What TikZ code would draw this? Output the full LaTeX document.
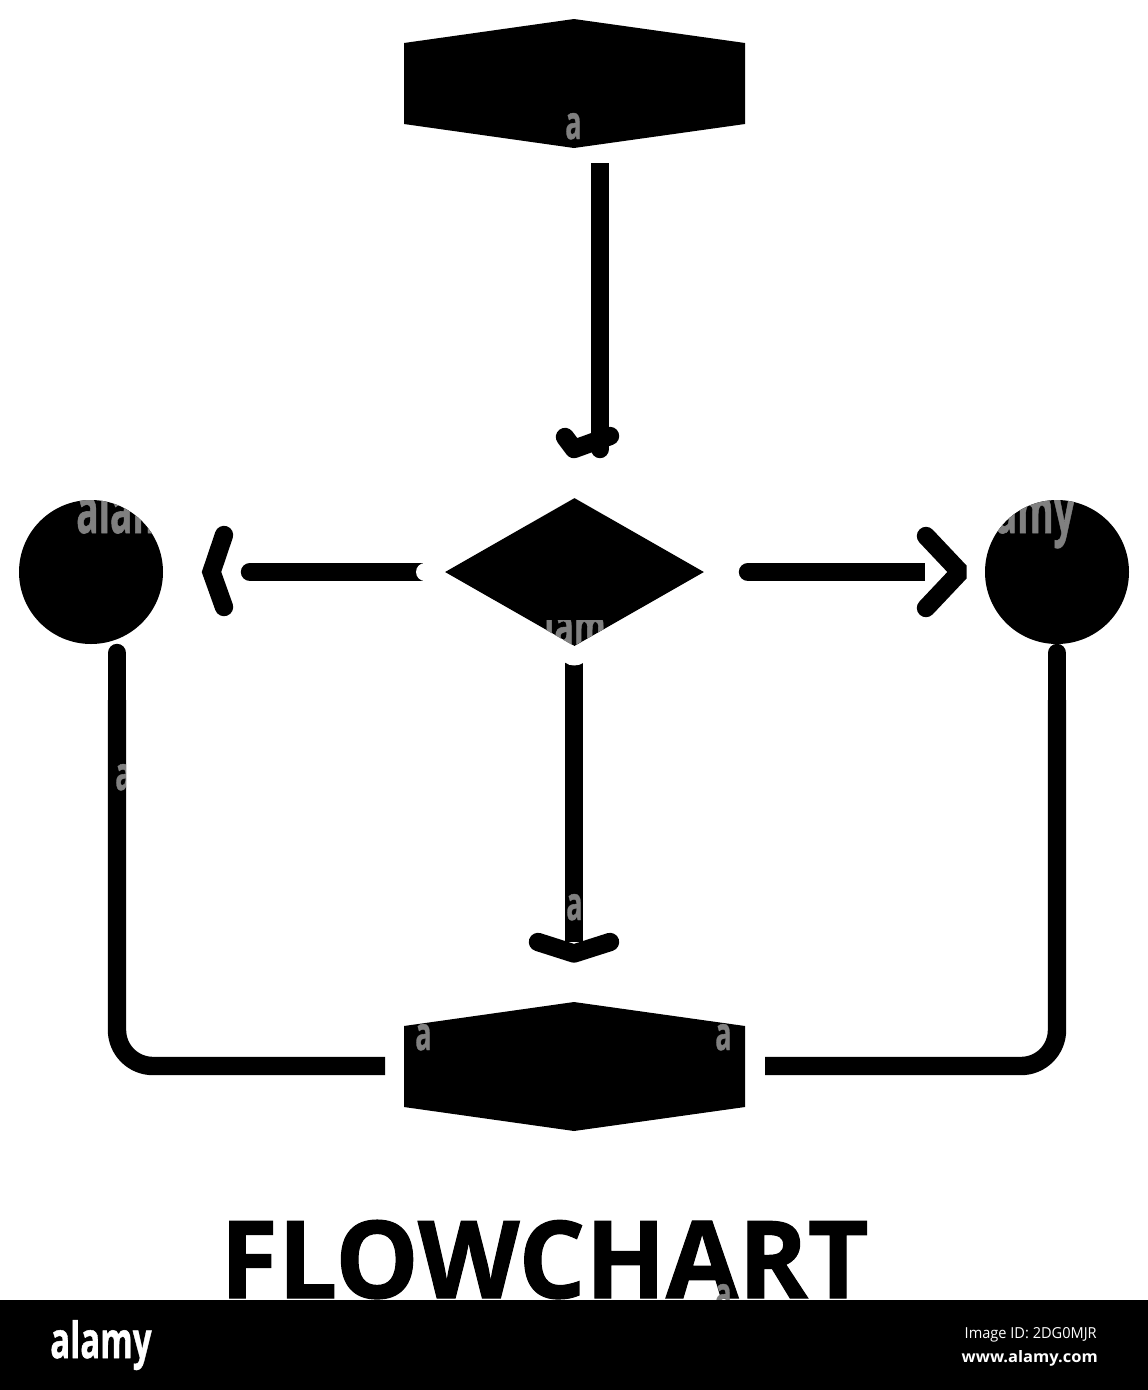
\documentclass[tikz,border=0pt]{standalone}
\usepackage{fontspec}
\setmainfont{Open Sans}
\newfontfamily\heavyfont[BoldFeatures={FakeBold=1.0}]{Open Sans}
\usetikzlibrary{shapes.geometric}
\definecolor{wmgrey}{HTML}{808080}
\newcommand{\wmark}[2]{\fontsize{#1}{#1}\selectfont\heavyfont\bfseries\scalebox{0.58}[1]{#2}}
\tikzset{
  shapefill/.style={fill=black,draw=none},
  conn/.style={draw=black,line width=13.8pt,line cap=butt,line join=round},
  roundconn/.style={conn,line cap=round},
  wm/.style={text=wmgrey,inner sep=0pt,anchor=base west},
  dot/.style={circle,shapefill,minimum size=108pt,inner sep=0pt},
  decision/.style={diamond,shapefill,minimum width=194.25pt,minimum height=111pt,inner sep=0pt,aspect=1.75},
  footer/.style={text=white,inner sep=0pt,anchor=base east},
}
\begin{document}
\begin{tikzpicture}[x=0.75pt,y=-0.75pt]
\useasboundingbox (0,0) rectangle (1148,1390);
% shapes
\node[dot] (lc) at (91,572) {};
\node[dot] (rc) at (1057,572) {};
\node[decision] (dec) at (574.5,572) {};
\fill[shapefill] (404,43) -- (574,19) -- (745,43) -- (745,124) -- (574,148) -- (404,124) -- cycle;
\fill[shapefill] (404,1026) -- (574,1002) -- (745,1026) -- (745,1107) -- (574,1131) -- (404,1107) -- cycle;
\coordinate (topout) at (600,163);
\coordinate (topin) at (600,449);
\coordinate (lstart) at (423,572);
\coordinate (lend) at (250,572);
\coordinate (rstart) at (925,572);
\coordinate (rend) at (748,572);
\coordinate (dstart) at (574,662);
\coordinate (dend) at (574,942);
\coordinate (llstart) at (117,653);
\coordinate (llend) at (385,1066);
\coordinate (rlstart) at (1057,653);
\coordinate (rlend) at (765,1066);
% connectors
\draw[conn] (topout) -- (600,440);
\draw[roundconn] (600,440) -- (topin);
\draw[roundconn,line join=round] (565,437) -- (574,449) -- (610,436);
\draw[conn] (lstart) -- (300,572);
\draw[roundconn] (300,572) -- (lend);
\fill[white] (425,572) circle (6.75pt);
\draw[roundconn,line join=miter] (224,535) -- (211.5,572) -- (224,607);
\draw[conn] (rstart) -- (800,572);
\draw[roundconn] (800,572) -- (rend);
\draw[roundconn,line join=bevel] (926,536) -- (960,572) -- (926,608);
\draw[conn] (dstart) -- (dend);
\fill[white] (564,660) -- (565,662.5) .. controls (570,666.5) and (578,666.5) .. (584,662.5) -- (584,660) -- cycle;
\draw[roundconn,line join=round] (538,942) -- (574,953.5) -- (610,942);
\draw[conn,rounded corners=27pt] (117,700) -- (117,1066) -- (llend);
\draw[roundconn] (llstart) -- (117,700);
\draw[conn,rounded corners=27pt] (1057,700) -- (1057,1066) -- (rlend);
\draw[roundconn] (rlstart) -- (1057,700);
% watermark fragments on the black shapes
\begin{scope}\clip (91,572) circle (54pt);
 \node[wm] (w1) at (76,533) {\wmark{48}{alamy}};
\end{scope}
\begin{scope}\clip (1057,572) circle (54pt);
 \node[wm,anchor=base east] (w2) at (1075,533) {\wmark{48}{alamy}};
\end{scope}
\begin{scope}\clip (445,572) -- (574,498) -- (704,572) -- (574,646) -- cycle;
 \clip (440,620) rectangle (710,650);
 \node[wm] (w3) at (544,646) {\wmark{42}{lam}};
\end{scope}
\node[wm] (w4) at (565,139) {\wmark{35}{a}};
\node[wm] (w5) at (415,1050) {\wmark{35}{a}};
\node[wm] (w6) at (715,1050) {\wmark{35}{a}};
\begin{scope}\clip (108,700) rectangle (126,900);
 \node[wm] (w7) at (115,790) {\wmark{35}{a}};
\end{scope}
\node[wm] (w8) at (566,920) {\wmark{35}{a}};
% title
\node[inner sep=0pt,anchor=base west] (title) at (220,1298) {\resizebox{486pt}{58.5pt}{\heavyfont\bfseries FLOWCHART}};
\begin{scope}\clip (714,1280) rectangle (734,1300);
 \node[wm] (w9) at (715,1310) {\wmark{35}{a}};
\end{scope}
% footer band
\fill[black] (0,1300) rectangle (1148,1390);
\node[inner sep=0pt,anchor=base west,text=white] (logo) at (50,1358) {\resizebox*{76pt}{37.5pt}{\heavyfont\bfseries alamy}};
\node[footer] (imgid) at (1097,1338) {\resizebox{99pt}{8.25pt}{Image ID: 2DG0MJR}};
\node[footer] (web) at (1098,1362) {\resizebox{102pt}{9pt}{\bfseries www.alamy.com}};
\end{tikzpicture}
\end{document}
